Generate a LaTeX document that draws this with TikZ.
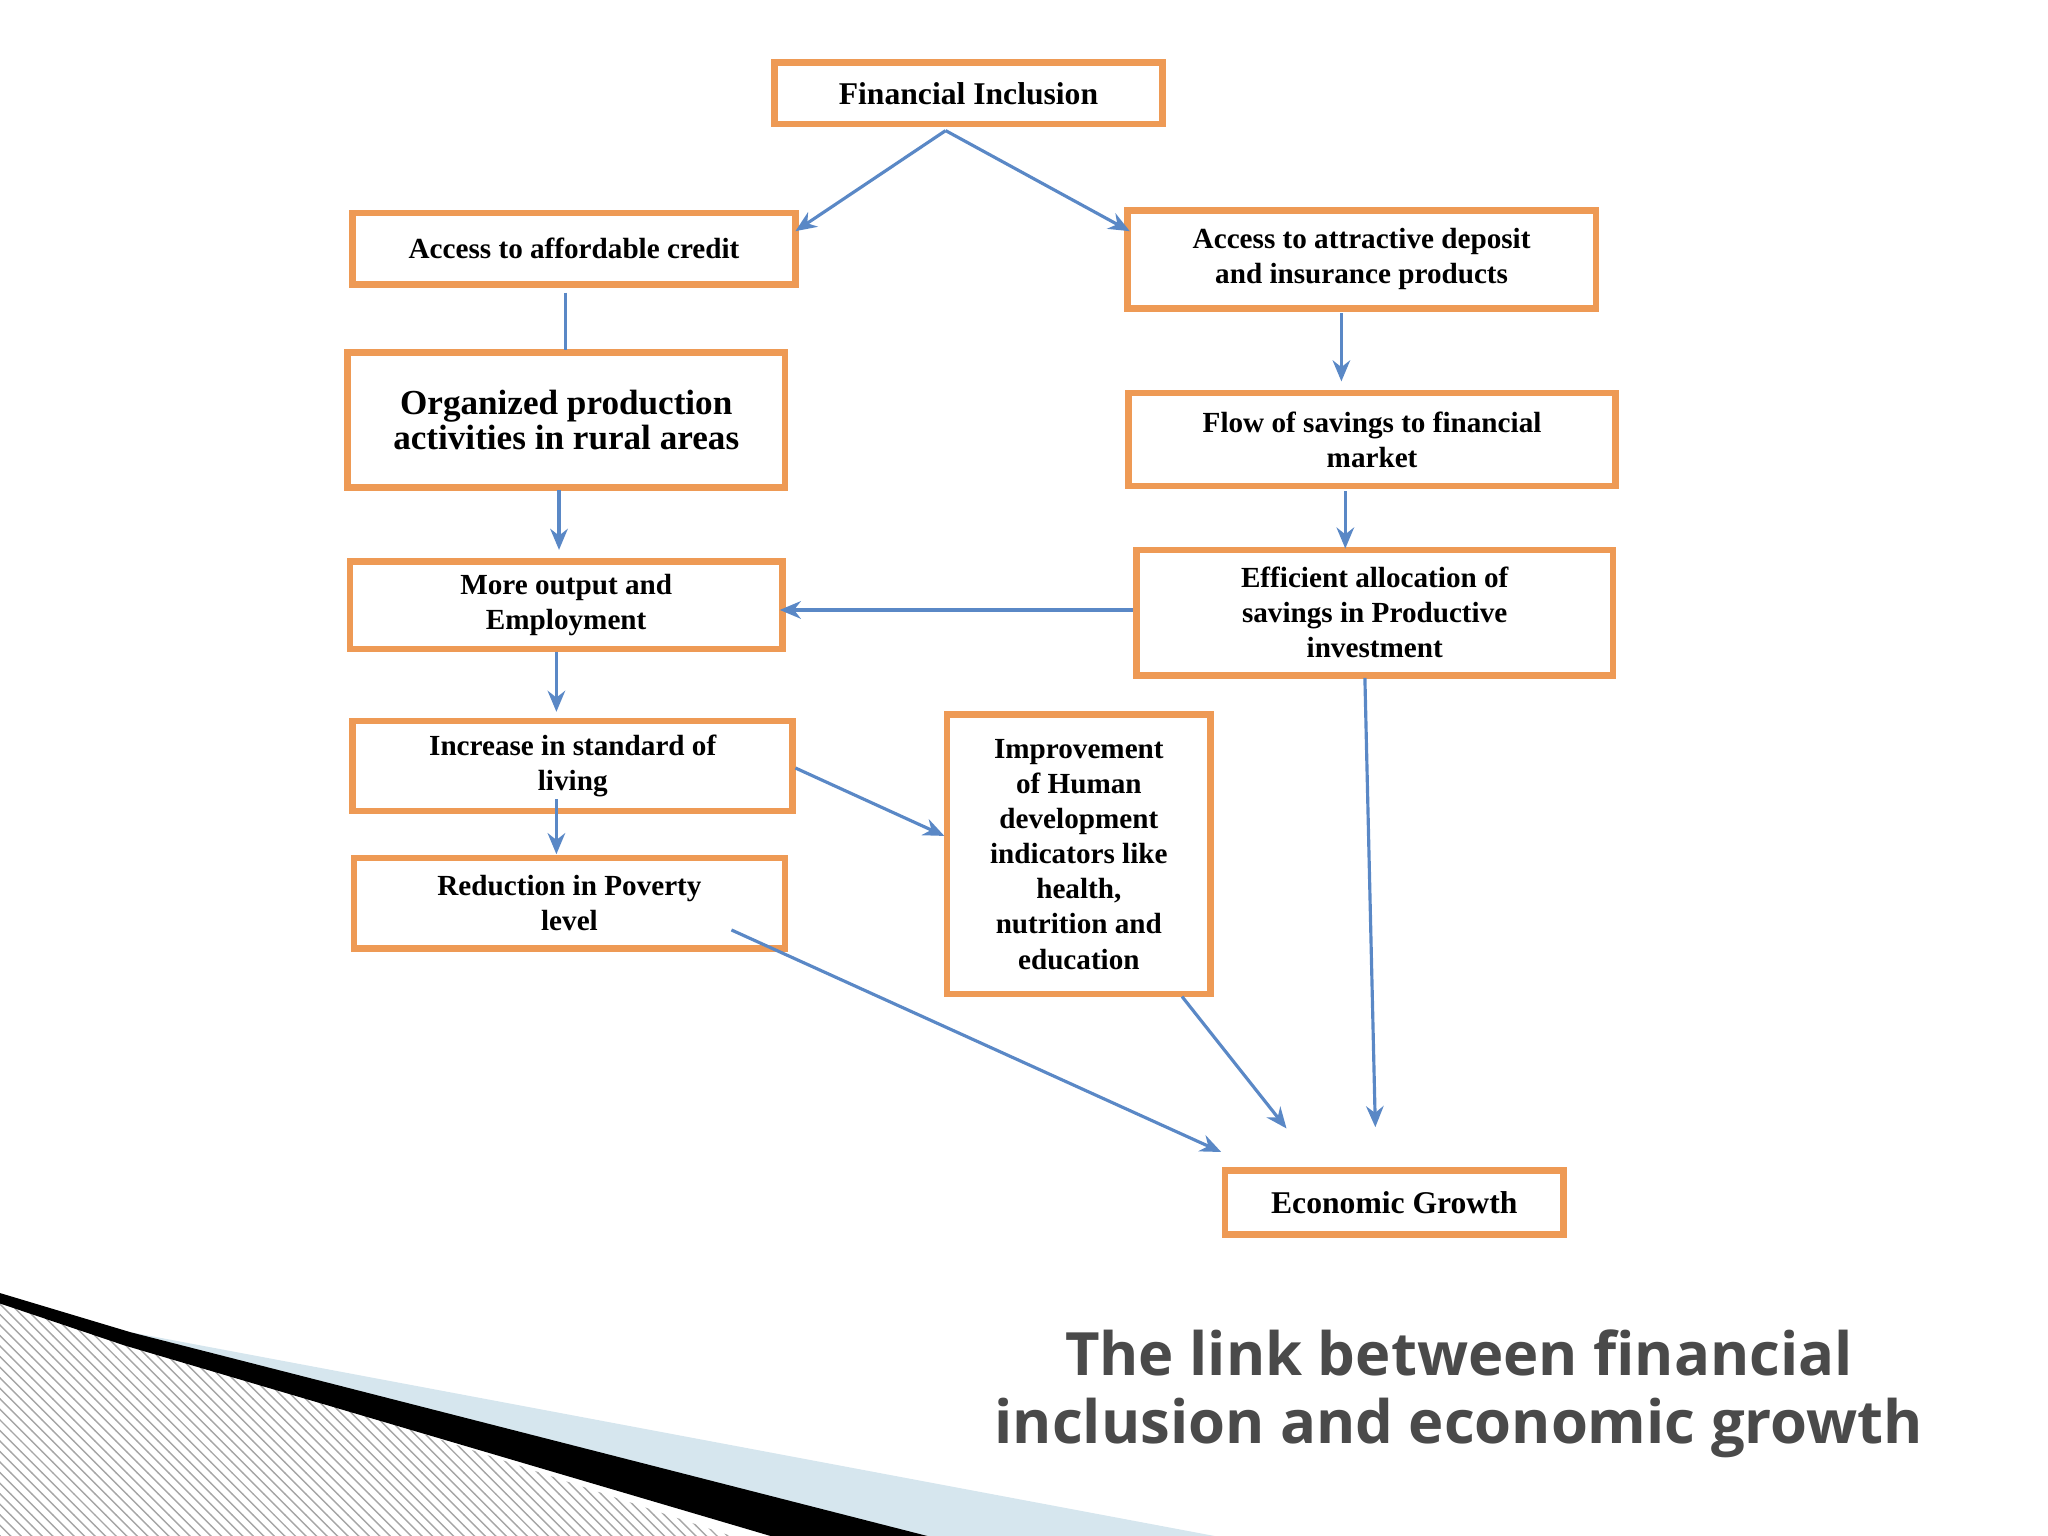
\documentclass[tikz,border=0pt]{standalone}
\usepackage{fontspec}
\setmainfont{Liberation Serif}
\newfontfamily\titlefont{Open Sans}
\usetikzlibrary{arrows.meta,patterns}
\definecolor{boxor}{HTML}{EE9A55}
\definecolor{arrblue}{HTML}{5A88C6}
\definecolor{ttl}{HTML}{4A4A4A}
\definecolor{lblue}{HTML}{D6E6EE}
\tikzset{
 fbox/.style={draw=boxor,line width=1.9pt,fill=white,align=center,font=\bfseries\fontsize{8.3}{10}\selectfont,inner sep=0pt},
 arr/.style={draw=arrblue,line width=0.9pt,-{Stealth[length=6pt,width=5pt]}},
 ln/.style={draw=arrblue,line width=0.9pt}
}
\begin{document}
\begin{tikzpicture}[x=0.013061cm,y=-0.013061cm]
\useasboundingbox (0,0) rectangle (1568,1176);
% decoration
\fill[pattern=north west lines,pattern color=gray!70] (0,996)--(95,1022)--(560,1176)--(0,1176)--cycle;
\fill[lblue] (100,1020)--(930,1176)--(700,1176)--cycle;
\fill[black] (0,990)--(100,1020)--(710,1176)--(590,1176)--(95,1030)--(0,998)--cycle;
% boxes
\newcommand\bx[6]{\node[fbox,minimum width={(#4-#2)*0.013061cm},minimum height={(#5-#3)*0.013061cm}] (#1) at ({(#2+#4)/2},{(#3+#5)/2}) {#6};}
\bx{fi}{593}{48}{890}{95}{\fontsize{9}{11}\selectfont Financial Inclusion}
\bx{cr}{270}{163}{609}{218}{Access to affordable credit}
\bx{de}{863}{161}{1222}{236}{Access to attractive deposit\\and insurance products}
\bx{or}{266}{270}{601}{373}{\fontsize{10}{11.5}\selectfont Organized production\\\fontsize{10}{11.5}\selectfont activities in rural areas}
\bx{fl}{864}{301}{1237}{372}{Flow of savings to financial\\market}
\bx{mo}{268}{430}{599}{497}{More output and\\Employment}
\bx{ef}{870}{421}{1235}{517}{Efficient allocation of\\savings in Productive\\investment}
\bx{in}{270}{552}{607}{621}{Increase in standard of\\living}
\bx{re}{271}{657}{601}{726}{Reduction in Poverty\\level}
\bx{im}{725}{547}{927}{761}{Improvement\\of Human\\development\\indicators like\\health,\\nutrition and\\education}
\bx{eg}{938}{896}{1197}{945}{\fontsize{9}{11}\selectfont Economic Growth}
% connectors
\coordinate (fis) at (724,100);
\draw[arr] (fis) -- (609,177);
\draw[arr] (fis) -- (865,177);
\draw[ln] (433,224) -- (433,268);
\draw[arr] (428,375) -- (428,421);
\draw[arr] (1027,240) -- (1027,292);
\draw[arr] (1030,376) -- (1030,420);
\draw[arr] (ef.west |- 0,467) -- (597,467);
\draw[arr] (426,499) -- (426,545);
\draw[arr] (426,612) -- (426,654);
\draw[arr] (609,588) -- (723,640);
\draw[arr] (560,712) -- (935,882);
\draw[arr] (905,763) -- (985,864);
\draw[arr] (1045,519) -- (1053,863);
% title
\node[font=\titlefont\bfseries\fontsize{17}{19.5}\selectfont,text=ttl,align=center] (t) at (1117,1067) {The link between financial\\inclusion and economic growth};
\end{tikzpicture}
\end{document}
